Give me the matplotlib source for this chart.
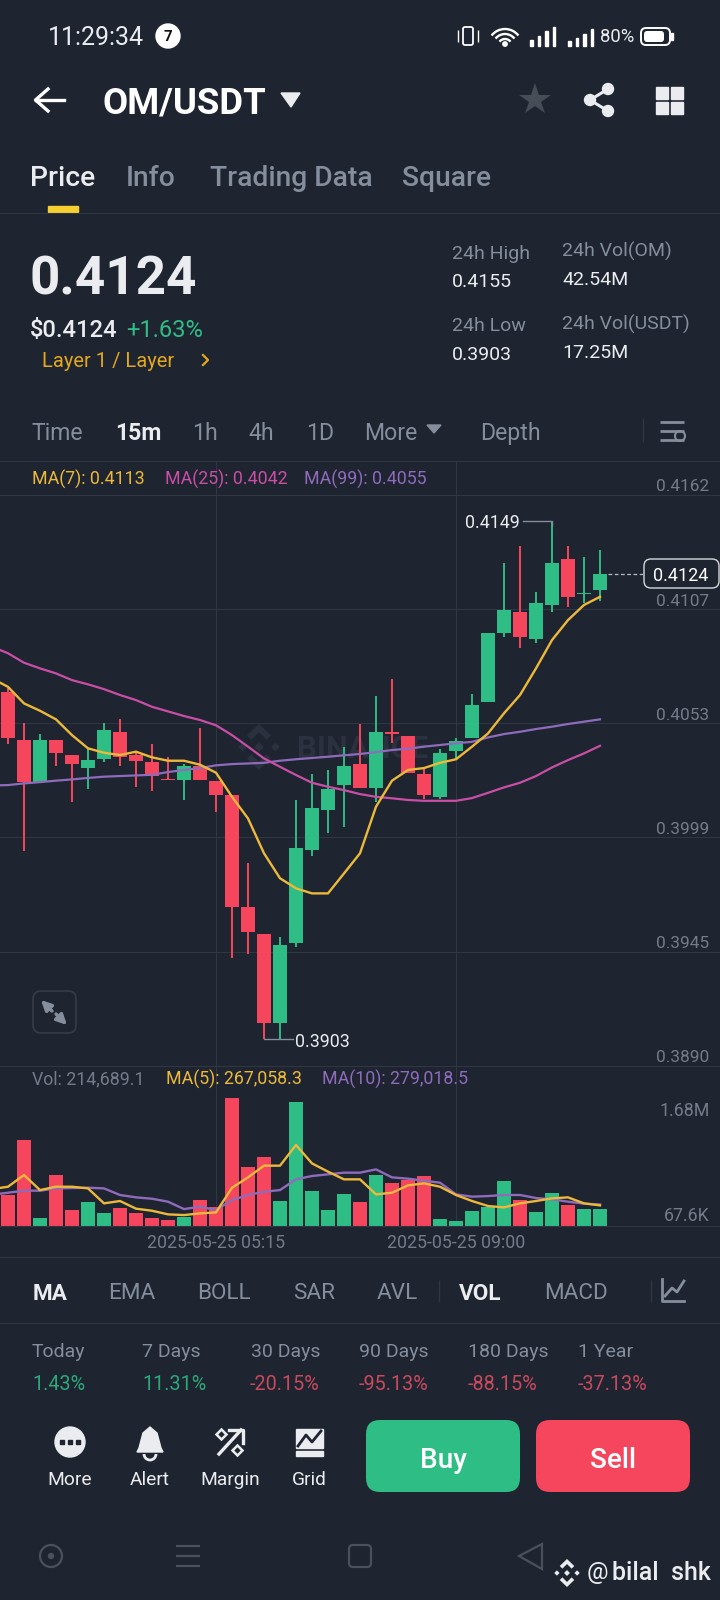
import numpy as np
import matplotlib
matplotlib.use("Agg")
import matplotlib.pyplot as plt
from matplotlib.patches import Arc, Circle, FancyBboxPatch, Polygon, Rectangle

plt.rcParams["font.family"] = ["Roboto", "DejaVu Sans"]

# candles, one per 15 minutes
opens = [0.40682, 0.40452, 0.40253, 0.40452, 0.40379, 0.40318, 0.40360, 0.40490, 0.40379, 0.40348,
         0.40267, 0.40259, 0.40328, 0.40258, 0.40188, 0.39657, 0.39526, 0.39103, 0.39486, 0.39927,
         0.40118, 0.40238, 0.40337, 0.40221, 0.40490, 0.40471, 0.40290, 0.40179, 0.40401, 0.40460,
         0.40631, 0.40963, 0.41063, 0.40933, 0.41093, 0.41314, 0.41146, 0.41165]
highs = [0.40699, 0.40531, 0.40480, 0.40452, 0.40379, 0.40407, 0.40531, 0.40550, 0.40394, 0.40431,
         0.40369, 0.40337, 0.40509, 0.40258, 0.40188, 0.39867, 0.39526, 0.39514, 0.40167, 0.40288,
         0.40309, 0.40420, 0.40530, 0.40661, 0.40742, 0.40471, 0.40324, 0.40407, 0.40460, 0.40671,
         0.40963, 0.41295, 0.41376, 0.41155, 0.41496, 0.41376, 0.41325, 0.41355]
lows = [0.40432, 0.39924, 0.40253, 0.40328, 0.40156, 0.40218, 0.40348, 0.40328, 0.40228, 0.40209,
        0.40259, 0.40167, 0.40259, 0.40107, 0.39413, 0.39433, 0.39026, 0.39026, 0.39465, 0.39899,
        0.40008, 0.40037, 0.40221, 0.40157, 0.40436, 0.40293, 0.40169, 0.40169, 0.40364, 0.40460,
        0.40631, 0.40944, 0.40891, 0.40912, 0.41061, 0.41084, 0.41103, 0.41115]
closes = [0.40460, 0.40250, 0.40452, 0.40388, 0.40339, 0.40358, 0.40499, 0.40370, 0.40350, 0.40281,
          0.40259, 0.40328, 0.40259, 0.40188, 0.39657, 0.39535, 0.39103, 0.39473, 0.39937, 0.40127,
          0.40218, 0.40329, 0.40221, 0.40490, 0.40482, 0.40293, 0.40190, 0.40390, 0.40448, 0.40620,
          0.40963, 0.41072, 0.40944, 0.41103, 0.41295, 0.41134, 0.41153, 0.41244]
volumes = [404000, 1132000, 101000, 667000, 206000, 316000, 171000, 232000, 162000, 101000,
           75000, 114000, 333000, 246000, 1680000, 772000, 908000, 320000, 1623000, 461000,
           206000, 412000, 316000, 662000, 566000, 601000, 654000, 83000, 67600, 193000,
           246000, 583000, 338000, 184000, 425000, 276000, 224000, 214689]

# moving averages start one candle left of the screen edge
ma7 = [0.40745, 0.40705, 0.40626, 0.40591, 0.40550, 0.40475, 0.40412, 0.40391, 0.40380, 0.40396,
       0.40369, 0.40353, 0.40353, 0.40334, 0.40296, 0.40181, 0.40078, 0.39912, 0.39793, 0.39745,
       0.39721, 0.39721, 0.39816, 0.39912, 0.40134, 0.40258, 0.40309, 0.40318, 0.40343, 0.40360,
       0.40420, 0.40483, 0.40579, 0.40666, 0.40793, 0.40928, 0.41023, 0.41095, 0.41134]
ma25 = [0.40896, 0.40865, 0.40820, 0.40793, 0.40769, 0.40737, 0.40717, 0.40694, 0.40666, 0.40642,
        0.40610, 0.40588, 0.40566, 0.40547, 0.40522, 0.40475, 0.40420, 0.40364, 0.40324, 0.40285,
        0.40248, 0.40229, 0.40213, 0.40194, 0.40181, 0.40174, 0.40166, 0.40162, 0.40162, 0.40162,
        0.40175, 0.40200, 0.40226, 0.40248, 0.40280, 0.40321, 0.40356, 0.40388, 0.40424]
ma99 = [0.40235, 0.40237, 0.40245, 0.40251, 0.40258, 0.40264, 0.40271, 0.40277, 0.40280, 0.40283,
        0.40286, 0.40299, 0.40309, 0.40318, 0.40331, 0.40337, 0.40340, 0.40343, 0.40353, 0.40360,
        0.40366, 0.40372, 0.40379, 0.40385, 0.40394, 0.40404, 0.40410, 0.40420, 0.40428, 0.40436,
        0.40443, 0.40464, 0.40480, 0.40491, 0.40504, 0.40515, 0.40528, 0.40539, 0.40550]
vol_ma5 = [482000, 513000, 667000, 469000, 513000, 513000, 491000, 294000, 325000, 224000,
           197000, 149000, 140000, 162000, 175000, 500000, 636000, 790000, 790000, 1062000,
           820000, 711000, 610000, 610000, 412000, 434000, 531000, 557000, 513000, 404000,
           325000, 259000, 241000, 294000, 325000, 360000, 373000, 294000, 267058]
vol_ma10 = [408000, 434000, 461000, 461000, 491000, 496000, 500000, 491000, 404000, 373000,
            355000, 316000, 219000, 250000, 206000, 338000, 404000, 447000, 469000, 610000,
            654000, 676000, 698000, 698000, 741000, 636000, 619000, 592000, 566000, 412000,
            382000, 390000, 404000, 404000, 364000, 347000, 316000, 290000, 279018]

price_ticks = [0.41620, 0.41075, 0.40531, 0.39989, 0.39443, 0.38900]
price_labels = ["0.4162", "0.4107", "0.4053", "0.3999", "0.3945", "0.3890"]
time_ticks = [13, 28]
time_labels = ["2025-05-25 05:15", "2025-05-25 09:00"]

BG = "#1E2430"
GRID = "#303642"
GREEN = "#2EBD85"
RED = "#F6465D"
YELLOW = "#EDB93A"
PINK = "#C94FA6"
PURPLE = "#8E6BBB"
GREY = "#848E9C"
AXIS = "#747C8A"
WHITE = "#EAECEF"
H = 1600.0

fig = plt.figure(figsize=(7.2, 16), dpi=100, facecolor=BG)


def pixel_axes(z):
    a = fig.add_axes([0, 0, 1, 1], zorder=z)
    a.set_xlim(0, 720)
    a.set_ylim(1600, 0)
    a.axis("off")
    return a


back = pixel_axes(0)
ui = pixel_axes(3)

ax = fig.add_axes([0, 1 - 1065.7 / H, 1, (1065.7 - 461) / H], zorder=1)
vol = fig.add_axes([0, 1 - 1225.7 / H, 1, 160 / H], zorder=1)
for a in (ax, vol):
    a.set_facecolor("none")
    for s in a.spines.values():
        s.set_visible(False)
    a.set_xlim(-0.5, 44.5)
    a.set_xticks(time_ticks)
    a.grid(axis="x", color=GRID, lw=0.8)
    a.set_axisbelow(True)
    a.tick_params(length=0)
ax.set_xticklabels([])
for side in ("top", "bottom"):
    ax.spines[side].set_visible(True)
    ax.spines[side].set_color(GRID)
ax.set_ylim(0.38900, 0.41781)
ax.set_yticks(price_ticks)
ax.set_yticklabels([])
ax.grid(axis="y", color=GRID, lw=0.8)
vol.set_ylim(0, 160 * 13160)
vol.set_yticks([])
vol.set_xticklabels(time_labels, color=AXIS, fontsize=17.8 * 0.72)
vol.tick_params(axis="x", pad=6)
vol.spines["bottom"].set_visible(True)
vol.spines["bottom"].set_color(GRID)

idx = np.arange(len(opens))
line_x = np.arange(-1, len(opens))
colors = [GREEN if c >= o else RED for o, c in zip(opens, closes)]
body_low = np.minimum(opens, closes)
body_h = np.abs(np.array(closes) - np.array(opens))

ax.vlines(idx, lows, highs, colors=colors, lw=1.4, zorder=2)
ax.bar(idx, body_h, bottom=body_low, width=0.91, color=colors, zorder=3)
ax.plot(line_x, ma99, color=PURPLE, lw=1.6, zorder=4)
ax.plot(line_x, ma25, color=PINK, lw=1.6, zorder=4)
ax.plot(line_x, ma7, color=YELLOW, lw=1.7, zorder=5)

vol.bar(idx, volumes, width=0.91, color=colors, zorder=2)
vol.plot(line_x, vol_ma10, color=PURPLE, lw=1.7, zorder=3)
vol.plot(line_x, vol_ma5, color=YELLOW, lw=1.7, zorder=4)

for v, lab in zip(price_ticks, price_labels):
    ax.annotate(lab, (1, v), xycoords=("axes fraction", "data"), xytext=(-11, 8),
                textcoords="offset pixels", ha="right", va="center", color=AXIS, fontsize=17.3 * 0.72)


def txt(x, y, s, size, color=WHITE, weight="normal", ha="left", target=None):
    # Roboto sits a little high with va=center
    return (target or ui).text(x, y + size * 0.08, s, fontsize=size * 0.72, color=color,
                               fontweight=weight, ha=ha, va="center")


def logo(a, x, y, r, color):
    chev = [(0, -1), (0.52, -0.5), (0.33, -0.31), (0, -0.64), (-0.33, -0.31), (-0.52, -0.5)]
    for sign in (1, -1):
        a.add_patch(Polygon([(x + px * r, y + sign * py * r) for px, py in chev], color=color, lw=0))
    for cx in (-0.72, 0, 0.72):
        half = 0.21 if cx == 0 else 0.19
        a.add_patch(Polygon([(x + (cx - half) * r, y), (x + cx * r, y - half * r),
                             (x + (cx + half) * r, y), (x + cx * r, y + half * r)], color=color, lw=0))


# watermark behind the candles
logo(back, 259, 747, 23, "#2B313E")
txt(297, 747, "BINANCE", 31, "#2B313E", "bold", target=back)

# status bar
txt(48, 36, "11:29:34", 25)
ui.add_patch(Circle((168, 36), 12, color="white"))
txt(168, 36, "7", 15, "#111111", "bold", ha="center")
ui.add_patch(FancyBboxPatch((463, 27), 10, 18, boxstyle="round,pad=0,rounding_size=2", fc="none", ec="white", lw=1.3))
ui.vlines([458, 478], 30, 42, color="white", lw=1)
for r in (7, 12, 17):
    ui.add_patch(Arc((505, 46), r * 2, r * 2, theta1=218, theta2=322, color="white", lw=1.7))
ui.add_patch(Circle((505, 44), 2.2, color="white"))
for x0, hs in ((530, (6, 10, 15, 19)), (568, (5, 8, 12, 17))):
    for k, bar_h in enumerate(hs):
        ui.add_patch(Rectangle((x0 + k * 7.5, 46 - bar_h), 2.8, bar_h, color="white"))
txt(600, 36, "80%", 18.5)
ui.add_patch(FancyBboxPatch((641, 28), 29, 17, boxstyle="round,pad=0,rounding_size=5", fc="none", ec="white", lw=1.4))
ui.add_patch(FancyBboxPatch((644, 31), 20, 11, boxstyle="round,pad=0,rounding_size=3", fc="white", ec="none"))
ui.add_patch(Rectangle((671, 33), 2, 7, color="white"))

# header
ui.plot([36, 64], [100, 100], color="white", lw=2.4)
ui.plot([48, 35.5, 48], [89, 100, 111], color="white", lw=2.4)
txt(103, 101, "OM/USDT", 36.5, "white", "bold")
ui.add_patch(Polygon([(281, 93), (300, 93), (291, 107)], color=WHITE))
ui.plot(535, 100, marker="*", ms=24, color="#474D57", mew=0)
pts = [(608, 89), (590, 100), (608, 111)]
ui.plot(*zip(*pts), color=WHITE, lw=2.2)
for p in pts:
    ui.add_patch(Circle(p, 5.5, color=WHITE))
for gx in (656, 671):
    for gy in (87, 102):
        ui.add_patch(Rectangle((gx, gy), 12, 12, color=WHITE))

# tabs
for x, s, c, w in [(30, "Price", WHITE, "medium"), (126, "Info", GREY, "medium"),
                   (210, "Trading Data", GREY, "medium"), (402, "Square", GREY, "medium")]:
    txt(x, 176, s, 28.3, c, w)
ui.add_patch(Rectangle((48, 206), 30, 6, color="#F5CE2F"))
ui.axhline(212.5, color=GRID, lw=0.8)

# price block
txt(30, 276, "0.4124", 53, WHITE, "bold")
txt(30, 329, "$0.4124", 23.8, WHITE, "medium")
txt(126, 329, "+1.63%", 23.8, GREEN)
txt(42, 360, "Layer 1 / Layer", 20.2, "#E3A81E")
ui.plot([203, 208, 203], [355, 360, 365], color="#E3A81E", lw=1.6)
for x, y, s in [(452, 252, "24h High"), (452, 324, "24h Low"), (562, 250, "24h Vol(OM)"), (562, 323, "24h Vol(USDT)")]:
    txt(x, y, s, 19.5, GREY)
for x, y, s in [(452, 280, "0.4155"), (452, 353, "0.3903"), (562, 278, "42.54M"), (562, 351, "17.25M")]:
    txt(x, y, s, 19.5, WHITE)

# interval row
for x, s, c, w in [(31, "Time", GREY, "normal"), (115, "15m", WHITE, "bold"), (192, "1h", GREY, "normal"),
                   (248, "4h", GREY, "normal"), (306, "1D", GREY, "normal"), (364, "More", GREY, "normal"),
                   (480, "Depth", GREY, "normal")]:
    txt(x, 432, s, 23, c, w)
ui.add_patch(Polygon([(427, 425), (441, 425), (434, 433)], color=GREY))
ui.vlines(643, 418, 442, color=GRID, lw=1)
ui.hlines([422, 431, 440], 660, 684, color=GREY, lw=2)
ui.add_patch(Circle((680, 436), 5, fc=BG, ec=GREY, lw=1.5))

# chart legends
txt(32, 478, "MA(7): 0.4113", 17.8, YELLOW)
txt(165, 478, "MA(25): 0.4042", 17.8, PINK)
txt(304, 478, "MA(99): 0.4055", 17.8, PURPLE)
txt(32, 1078, "Vol: 214,689.1", 17.8, AXIS)
txt(166, 1078, "MA(5): 267,058.3", 17.8, YELLOW)
txt(322, 1078, "MA(10): 279,018.5", 17.8, PURPLE)
txt(710, 1110, "1.68M", 17.8, AXIS, ha="right")
txt(710, 1215, "67.6K", 17.8, AXIS, ha="right")

# high, low and last price marks
ui.plot([523, 552, 552], [520.7, 520.7, 525], color=GREY, lw=1)
txt(520, 521.5, "0.4149", 17.8, WHITE, ha="right")
ui.plot([264, 293], [1039.3, 1039.3], color=GREY, lw=1)
txt(295, 1041, "0.3903", 17.8, WHITE)
ui.plot([608, 644], [573.7, 573.7], color="#B7BDC6", lw=0.9, ls=(0, (3, 2)))
ui.add_patch(FancyBboxPatch((644, 559), 75, 29, boxstyle="round,pad=0,rounding_size=7", fc=BG, ec="#D5D8DD", lw=1))
txt(681, 575, "0.4124", 18, "white", ha="center")

# expand button
ui.add_patch(FancyBboxPatch((33, 991), 43, 42, boxstyle="round,pad=0,rounding_size=8", fc=BG, ec="#353B47", lw=1.2))
arrow = dict(arrowstyle="-|>", color=GREY, lw=2.4, mutation_scale=15, shrinkA=0, shrinkB=0)
ui.annotate("", (41, 1000), (52, 1011), arrowprops=arrow)
ui.annotate("", (67, 1025), (56, 1014), arrowprops=arrow)

# indicator row
ui.axhline(1256.5, color=GRID, lw=0.8)
ui.axhline(1323, color=GRID, lw=0.8)
for x, s, c, w in [(33, "MA", WHITE, "bold"), (108, "EMA", GREY, "normal"), (197, "BOLL", GREY, "normal"),
                   (293, "SAR", GREY, "normal"), (377, "AVL", GREY, "normal"), (459, "VOL", WHITE, "bold"),
                   (544, "MACD", GREY, "normal")]:
    txt(x, 1292, s, 22.5, c, w)
ui.vlines([439, 651], 1280, 1302, color=GRID, lw=1)
ui.plot([662, 662, 684], [1279, 1301, 1301], color=GREY, lw=2)
ui.plot([665, 672, 677, 684], [1296, 1288, 1292, 1281], color=GREY, lw=2)

# performance table
for x, s in zip([32, 142, 251, 359, 468, 578], ["Today", "7 Days", "30 Days", "90 Days", "180 Days", "1 Year"]):
    txt(x, 1350, s, 19.5, GREY)
for x, s, c in zip([32, 142, 250, 359, 468, 578], ["1.43%", "11.31%", "-20.15%", "-95.13%", "-88.15%", "-37.13%"],
                   ["#2CA87B", "#2CA87B", "#C94A5C", "#C94A5C", "#C94A5C", "#C94A5C"]):
    txt(x, 1383, s, 19.8, c)

# action bar
ui.add_patch(Circle((70, 1442), 15, color=WHITE))
ui.plot([62, 70, 78], [1442, 1442, 1442], ls="none", marker="s", ms=2.8, color=BG)
ui.add_patch(Polygon([(139, 1448), (143, 1433), (150, 1427), (157, 1433), (161, 1448), (163, 1452), (137, 1452)], color=WHITE))
ui.add_patch(Arc((150, 1454), 12, 12, theta1=0, theta2=180, color=WHITE, lw=2))
ui.plot([219, 241], [1454, 1430], color=WHITE, lw=2.4)
ui.plot([229, 243, 243], [1430, 1430, 1443], color=WHITE, lw=2.4)
ui.plot([221, 237], [1434, 1450], ls="none", marker="D", ms=5.5, mfc="none", mec=WHITE, mew=1.8)
ui.add_patch(Polygon([(296, 1429), (323, 1429), (323, 1448), (296, 1448)], color=WHITE))
ui.plot([298, 306, 312, 321], [1446, 1435, 1442, 1431], color=BG, lw=2)
ui.add_patch(Rectangle((296, 1451), 27, 5, color=WHITE))
for x, s in [(70, "More"), (150, "Alert"), (230, "Margin"), (309, "Grid")]:
    txt(x, 1478, s, 19.2, WHITE, ha="center")
ui.add_patch(FancyBboxPatch((366, 1420), 154, 72, boxstyle="round,pad=0,rounding_size=14", fc=GREEN, ec="none"))
ui.add_patch(FancyBboxPatch((536, 1420), 154, 72, boxstyle="round,pad=0,rounding_size=14", fc=RED, ec="none"))
txt(443, 1458, "Buy", 28, "white", "medium", ha="center")
txt(613, 1458, "Sell", 28, "white", "medium", ha="center")

# navigation bar and corner tag
NAV = "#4A505C"
ui.add_patch(Circle((51, 1556), 11, fc="none", ec=NAV, lw=1.6))
ui.add_patch(Circle((51, 1556), 2.5, color=NAV))
ui.hlines([1546, 1556, 1566], 176, 200, color=NAV, lw=1.6)
ui.add_patch(FancyBboxPatch((349, 1545), 22, 22, boxstyle="round,pad=0,rounding_size=4", fc="none", ec=NAV, lw=1.6))
ui.add_patch(Polygon([(542, 1544), (519, 1556), (542, 1569)], fc="none", ec=NAV, lw=1.6))
logo(ui, 567, 1573, 14, WHITE)
txt(587, 1571, "@", 24, WHITE)
txt(612, 1571, "bilal  shk", 25, WHITE, "medium")

fig.savefig("out.png", dpi=100, facecolor=BG)
